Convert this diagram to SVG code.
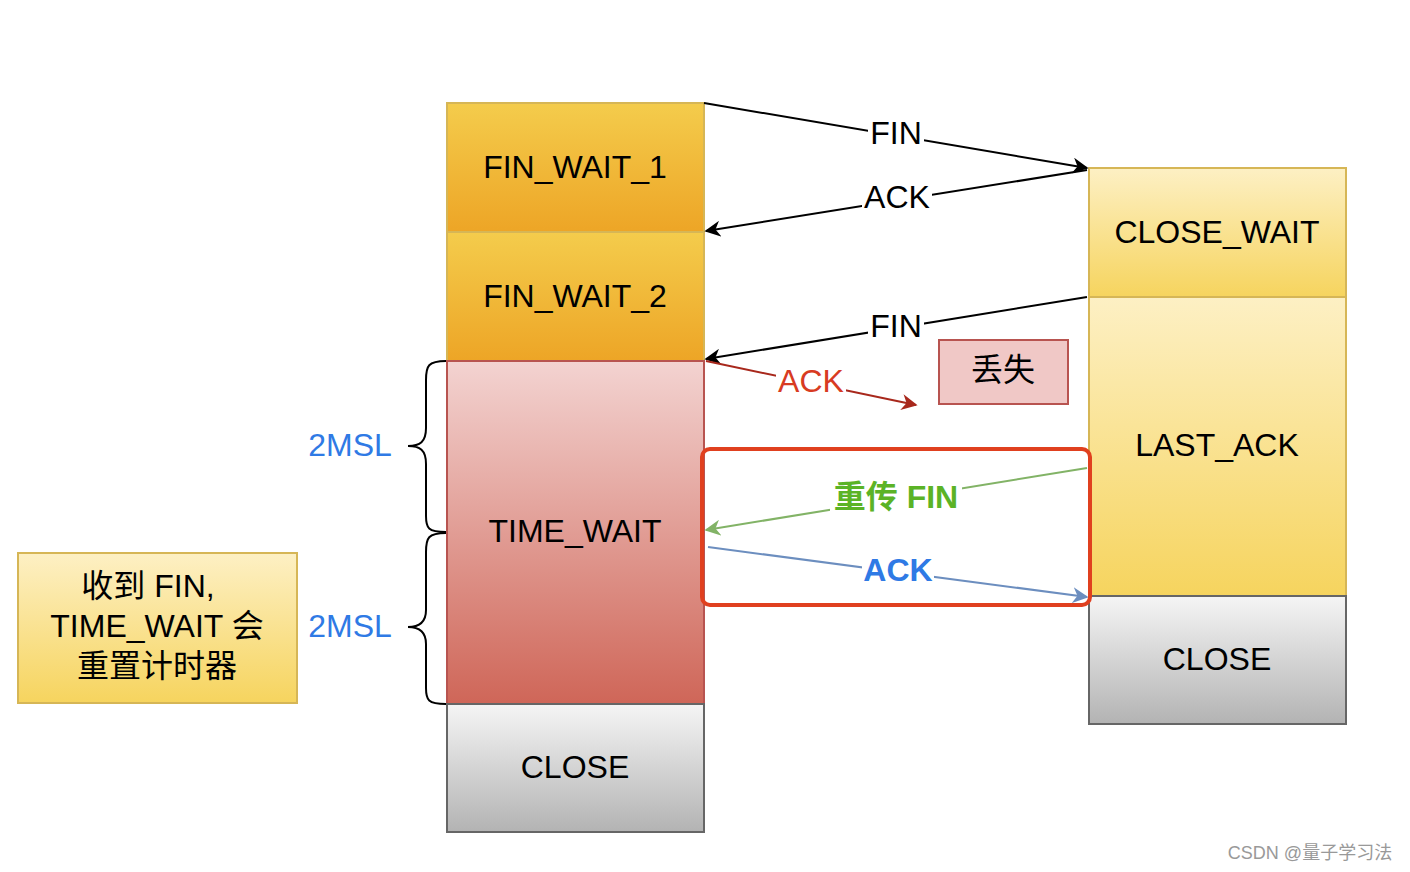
<svg xmlns="http://www.w3.org/2000/svg" width="1410" height="872" viewBox="0 0 1410 872">
<defs>
<linearGradient id="gOr" x1="0" y1="0" x2="0" y2="1"><stop offset="0" stop-color="#f4cc4c"/><stop offset="1" stop-color="#eda526"/></linearGradient>
<linearGradient id="gRed" x1="0" y1="0" x2="0" y2="1"><stop offset="0" stop-color="#f3d3d1"/><stop offset="1" stop-color="#cf6658"/></linearGradient>
<linearGradient id="gGray" x1="0" y1="0" x2="0" y2="1"><stop offset="0" stop-color="#f5f5f5"/><stop offset="1" stop-color="#b3b3b3"/></linearGradient>
<linearGradient id="gYel" x1="0" y1="0" x2="0" y2="1"><stop offset="0" stop-color="#fdf0c4"/><stop offset="1" stop-color="#f6d45e"/></linearGradient>
<marker id="aB" viewBox="0 0 10 10" refX="9" refY="5" markerWidth="8" markerHeight="8" orient="auto"><path d="M0,0 L10,5 L0,10 L3,5 Z" fill="#000"/></marker>
<marker id="aR" viewBox="0 0 10 10" refX="9" refY="5" markerWidth="8" markerHeight="8" orient="auto"><path d="M0,0 L10,5 L0,10 L3,5 Z" fill="#a8281c"/></marker>
<marker id="aG" viewBox="0 0 10 10" refX="9" refY="5" markerWidth="8" markerHeight="8" orient="auto"><path d="M0,0 L10,5 L0,10 L3,5 Z" fill="#82b366"/></marker>
<marker id="aBl" viewBox="0 0 10 10" refX="9" refY="5" markerWidth="8" markerHeight="8" orient="auto"><path d="M0,0 L10,5 L0,10 L3,5 Z" fill="#6c8ebf"/></marker>
</defs>
<style>
text{font-family:"Liberation Sans","Noto Sans CJK SC",sans-serif;font-size:32px;text-anchor:middle;dominant-baseline:central}
.box{stroke-width:2}
.lbl{fill:#000}
.bg{fill:#fff}
</style>
<rect width="1410" height="872" fill="#fff"/>
<g id="fin_wait_1"><rect class="box" x="447" y="103" width="257" height="129" fill="url(#gOr)" stroke="#d6b656"/><text x="575" y="167">FIN_WAIT_1</text></g>
<g id="fin_wait_2"><rect class="box" x="447" y="232" width="257" height="129" fill="url(#gOr)" stroke="#d6b656"/><text x="575" y="296">FIN_WAIT_2</text></g>
<g id="time_wait"><rect class="box" x="447" y="361" width="257" height="343" fill="url(#gRed)" stroke="#b85450"/><text x="575" y="531">TIME_WAIT</text></g>
<g id="close_left"><rect class="box" x="447" y="704" width="257" height="128" fill="url(#gGray)" stroke="#666"/><text x="575" y="767">CLOSE</text></g>
<g id="close_wait"><rect class="box" x="1089" y="168" width="257" height="129" fill="url(#gYel)" stroke="#d6b656"/><text x="1217" y="232">CLOSE_WAIT</text></g>
<g id="last_ack"><rect class="box" x="1089" y="297" width="257" height="299" fill="url(#gYel)" stroke="#d6b656"/><text x="1217" y="445">LAST_ACK</text></g>
<g id="close_right"><rect class="box" x="1089" y="596" width="257" height="128" fill="url(#gGray)" stroke="#666"/><text x="1217" y="659">CLOSE</text></g>
<g id="lost"><rect x="939" y="340" width="129" height="64" fill="#f0c8c6" stroke="#b85450" stroke-width="2"/><text x="1003" y="370">丢失</text></g>
<g id="note"><rect x="18" y="553" width="279" height="150" fill="url(#gYel)" stroke="#d6b656" stroke-width="2"/><text x="148" y="586">收到 FIN,</text><text x="157" y="626">TIME_WAIT 会</text><text x="157" y="666">重置计时器</text></g>
<g id="braces" fill="none" stroke="#000" stroke-width="2">
<path d="M446,361 C428,361 426,366 426,380 L426,428 C426,442 420,446 408,446 C420,446 426,450 426,464 L426,516 C426,528 428,532 446,532"/>
<path d="M446,533 C428,533 426,538 426,552 L426,610 C426,622 420,627 408,627 C420,627 426,632 426,644 L426,688 C426,700 428,704 446,704"/>
</g>
<g id="msl" fill="#2f7ae5"><text x="350" y="445">2MSL</text><text x="350" y="626">2MSL</text></g>
<g id="connectors" fill="none" stroke-width="2">
<line x1="704" y1="103" x2="1087" y2="168" stroke="#000" marker-end="url(#aB)"/>
<line x1="1087" y1="170" x2="706" y2="231" stroke="#000" marker-end="url(#aB)"/>
<line x1="1087" y1="297" x2="706" y2="359" stroke="#000" marker-end="url(#aB)"/>
<line x1="706" y1="361" x2="916" y2="405" stroke="#a8281c" marker-end="url(#aR)"/>
<line x1="1087" y1="468" x2="706" y2="530" stroke="#82b366" marker-end="url(#aG)"/>
<line x1="708" y1="547" x2="1087" y2="597" stroke="#6c8ebf" marker-end="url(#aBl)"/>
<rect x="702" y="449" width="388" height="156" rx="8" stroke="#e0401f" stroke-width="4"/>
</g>
<g id="labels">
<rect class="bg" x="868" y="117" width="56" height="32"/><text x="896" y="133">FIN</text>
<rect class="bg" x="862" y="181" width="70" height="32"/><text x="897" y="197">ACK</text>
<rect class="bg" x="868" y="310" width="56" height="32"/><text x="896" y="326">FIN</text>
<rect class="bg" x="776" y="365" width="70" height="32"/><text x="811" y="381" fill="#d83b22">ACK</text>
<rect class="bg" x="830" y="481" width="132" height="32"/><text x="896" y="497" fill="#5bb326" font-weight="bold">重传 FIN</text>
<rect class="bg" x="862" y="554" width="72" height="32"/><text x="898" y="570" fill="#2f7ae5" font-weight="bold">ACK</text>
</g>
<text x="1310" y="853" style="font-size:18px" fill="#999">CSDN @量子学习法</text>
</svg>
